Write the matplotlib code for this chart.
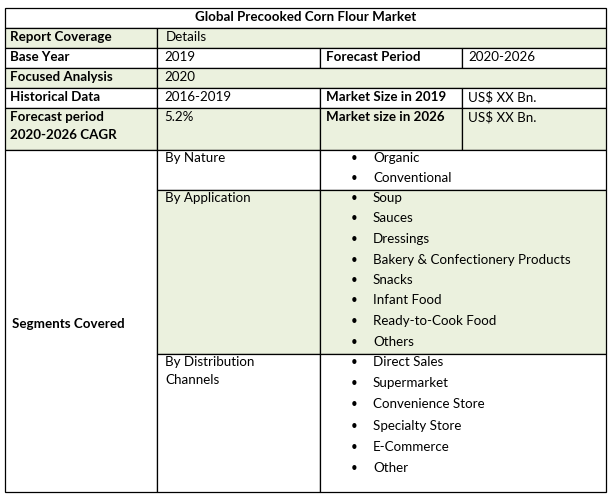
import matplotlib
matplotlib.use("Agg")
import matplotlib.pyplot as plt
from matplotlib.patches import Rectangle

title = "Global Precooked Corn Flour Market"
info_rows = [
    ("Report Coverage", "Details", None, None),
    ("Base Year", "2019", "Forecast Period", "2020-2026"),
    ("Focused Analysis", "2020", None, None),
    ("Historical Data", "2016-2019", "Market Size in 2019", "US$ XX Bn."),
    ("Forecast period\n2020-2026 CAGR", "5.2%", "Market size in 2026", "US$ XX Bn."),
]
segment_label = "Segments Covered"
segments = ["By Nature", "By Application", "By Distribution\nChannels"]
segment_items = [
    ["Organic", "Conventional"],
    ["Soup", "Sauces", "Dressings", "Bakery & Confectionery Products", "Snacks",
     "Infant Food", "Ready-to-Cook Food", "Others"],
    ["Direct Sales", "Supermarket", "Convenience Store", "Specialty Store", "E-Commerce", "Other"],
]

W, H = 612, 501
fig = plt.figure(figsize=(W/100, H/100), dpi=100)
ax = fig.add_axes([0, 0, 1, 1])
ax.set_xlim(0, W); ax.set_ylim(H, 0); ax.axis("off")
GREEN = "#EBF1DE"
FONT = "Lato"
FS = 9.6
LW = 0.9
cx = [5, 157, 320, 462, 606]
info_y = [28, 48, 68, 88, 108, 150]
green_info = [True, False, True, False, True]
seg_y = [150, 190, 354, 492]
green_seg = [False, True, False]

def rect(x0, y0, x1, y1, fc):
    ax.add_patch(Rectangle((x0, y0), x1-x0, y1-y0, facecolor=fc, edgecolor="black", lw=LW))

def txt(x, y, s, bold=False, ha="left"):
    ax.text(x, y, s, fontsize=FS, family=FONT, fontweight="bold" if bold else "normal",
            ha=ha, va="top", linespacing=1.55)

rect(cx[0], 8, cx[4], 28, "white")
txt(W/2, 11, title, bold=True, ha="center")
for i, (a, b, c, d) in enumerate(info_rows):
    y0, y1 = info_y[i], info_y[i+1]
    fc = GREEN if green_info[i] else "white"
    rect(cx[0], y0, cx[1], y1, fc)
    txt(cx[0]+5, y0+3, a, bold=True)
    if c is None:
        rect(cx[1], y0, cx[4], y1, fc)
        txt(cx[1]+(9 if i == 0 else 7), y0+3, b)
    else:
        rect(cx[1], y0, cx[2], y1, fc)
        txt(cx[1]+7, y0+3, b)
        rect(cx[2], y0, cx[3], y1, fc)
        txt(cx[2]+6, y0+3, c, bold=True)
        rect(cx[3], y0, cx[4], y1, fc)
        txt(cx[3]+6, y0+3, d)

rect(cx[0], seg_y[0], cx[1], seg_y[-1], "white")
ax.text(cx[0]+7, (seg_y[0]+seg_y[-1])/2+3, segment_label, fontsize=FS, family=FONT,
        fontweight="bold", ha="left", va="center")
for i, s in enumerate(segments):
    y0, y1 = seg_y[i], seg_y[i+1]
    fc = GREEN if green_seg[i] else "white"
    rect(cx[1], y0, cx[2], y1, fc)
    rect(cx[2], y0, cx[4], y1, fc)
    txt(cx[1]+8, y0+2, s)
    step = 20.5 if i < 2 else 21.2
    for j, it in enumerate(segment_items[i]):
        yy = y0 + 2 + j*step
        ax.text(354, yy+7.5, "\u2022", fontsize=FS+1, family="DejaVu Sans", ha="center", va="center")
        txt(373, yy, it)

fig.savefig("out.png", dpi=100)
